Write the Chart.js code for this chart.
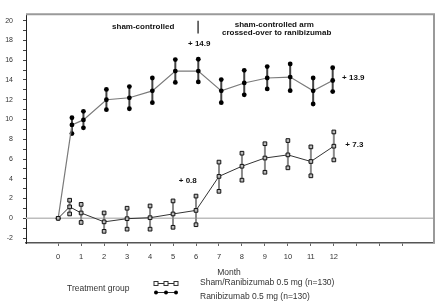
<!DOCTYPE html>
<html>
<head>
<meta charset="utf-8">
<script src="https://cdn.jsdelivr.net/npm/chart.js@4.4.0/dist/chart.umd.min.js"></script>
<style>
  html, body { margin: 0; padding: 0; background: #fff; }
</style>
</head>
<body>
<canvas id="chart-bcva" width="439" height="307"></canvas>
<script>
// ---- data ----
const xTickValues = [0, 1, 2, 3, 4, 5, 6, 7, 8, 9, 10, 11, 12, 13, 14, 15];
const yTickValues = [-2, -1, 0, 1, 2, 3, 4, 5, 6, 7, 8, 9, 10, 11, 12, 13, 14, 15, 16, 17, 18, 19, 20];

const shamMonths = [0, 0.5, 1, 2, 3, 4, 5, 6, 7, 8, 9, 10, 11, 12];
const shamMean  = [0, 1.16, 0.54, -0.36, -0.04, 0.06, 0.44, 0.8, 4.24, 5.27, 6.1, 6.42, 5.75, 7.3];
const shamUpper = [null, 1.83, 1.41, 0.54, 1.02, 1.25, 1.76, 2.25, 5.69, 6.59, 7.55, 7.87, 7.23, 8.74];
const shamLower = [null, 0.44, -0.42, -1.32, -1.1, -1.1, -0.91, -0.65, 2.73, 3.86, 4.66, 5.11, 4.3, 5.91];

const ranibMonths = [0, 0.6, 1.1, 2.1, 3.1, 4.1, 5.1, 6.1, 7.1, 8.1, 9.1, 10.1, 11.1, 11.95];
const ranibMean  = [0, 9.45, 9.96, 12.0, 12.2, 12.9, 14.9, 14.9, 12.9, 13.7, 14.2, 14.3, 12.9, 13.95];
const ranibUpper = [null, 10.18, 10.83, 13.05, 13.33, 14.2, 16.07, 16.1, 14.04, 14.98, 15.36, 15.62, 14.2, 15.24];
const ranibLower = [null, 8.58, 9.16, 11.0, 11.09, 11.7, 13.75, 13.8, 11.7, 12.5, 13.1, 12.92, 11.57, 12.83];

const seriesLabels = ['Sham/Ranibizumab 0.5 mg (n=130)', 'Ranibizumab 0.5 mg (n=130)'];

const FONT = '"Liberation Sans", Arial, sans-serif';
const pts = (xs, ys) => xs.map((x, i) => ({ x: x, y: ys[i] })).filter(p => p.y !== null);

// whiskers, zero line, frame, notes and legend
const overlay = {
  id: 'overlay',
  beforeDatasetsDraw(chart) {
    const { ctx, chartArea: a, scales: { x, y } } = chart;
    ctx.save();
    const y0 = y.getPixelForValue(0);
    ctx.strokeStyle = '#bdbdbd';
    ctx.lineWidth = 1.5;
    ctx.beginPath(); ctx.moveTo(a.left, y0); ctx.lineTo(a.right, y0); ctx.stroke();

    const whiskers = (months, lo, hi, color) => {
      ctx.strokeStyle = color;
      ctx.lineWidth = 2;
      months.forEach((m, i) => {
        if (lo[i] === null) return;
        const px = x.getPixelForValue(m);
        ctx.beginPath();
        ctx.moveTo(px, y.getPixelForValue(lo[i]));
        ctx.lineTo(px, y.getPixelForValue(hi[i]));
        ctx.stroke();
      });
    };
    whiskers(shamMonths, shamLower, shamUpper, '#8a8a8a');
    whiskers(ranibMonths, ranibLower, ranibUpper, '#444');
    ctx.restore();
  },
  afterDraw(chart) {
    const { ctx, chartArea: a, scales: { x, y } } = chart;
    ctx.save();
    // top / right frame
    ctx.strokeStyle = '#9a9a9a';
    ctx.lineWidth = 2;
    ctx.beginPath();
    ctx.moveTo(a.left, a.top); ctx.lineTo(a.right, a.top); ctx.lineTo(a.right, a.bottom);
    ctx.stroke();

    // divider between study phases
    ctx.strokeStyle = '#111';
    ctx.lineWidth = 1.2;
    const vx = x.getPixelForValue(6.09);
    ctx.beginPath(); ctx.moveTo(vx, y.getPixelForValue(20.0)); ctx.lineTo(vx, y.getPixelForValue(18.7)); ctx.stroke();

    ctx.fillStyle = '#111';
    ctx.textBaseline = 'middle';
    ctx.font = 'bold 8px ' + FONT;
    ctx.textAlign = 'center';
    ctx.fillText('sham-controlled', x.getPixelForValue(3.7), y.getPixelForValue(19.35));
    ctx.fillText('sham-controlled arm', x.getPixelForValue(9.41), y.getPixelForValue(19.57));
    ctx.fillText('crossed-over to ranibizumab', x.getPixelForValue(9.51), y.getPixelForValue(18.77));
    ctx.fillText('+ 14.9', x.getPixelForValue(6.14), y.getPixelForValue(17.65));
    ctx.textAlign = 'left';
    ctx.fillText('+ 13.9', x.getPixelForValue(12.36), y.getPixelForValue(14.2));
    ctx.fillText('+ 7.3', x.getPixelForValue(12.5), y.getPixelForValue(7.39));
    ctx.fillText('+ 0.8', x.getPixelForValue(5.25), y.getPixelForValue(3.76));

    // axis title and legend
    ctx.fillStyle = '#333';
    ctx.font = '8.5px ' + FONT;
    ctx.textAlign = 'center';
    ctx.fillText('Month', 229, 273);
    ctx.textAlign = 'left';
    ctx.fillText('Treatment group', 67, 288.5);
    ctx.fillText(seriesLabels[0], 200, 283);
    ctx.fillText(seriesLabels[1], 200, 296.5);

    ctx.strokeStyle = '#333';
    ctx.lineWidth = 1;
    ctx.beginPath(); ctx.moveTo(156, 283.5); ctx.lineTo(176, 283.5); ctx.stroke();
    ctx.beginPath(); ctx.moveTo(156, 292.5); ctx.lineTo(176, 292.5); ctx.stroke();
    [156, 166, 176].forEach(cx => {
      ctx.fillStyle = '#fff';
      ctx.fillRect(cx - 2, 281.5, 4, 4);
      ctx.strokeRect(cx - 2, 281.5, 4, 4);
      ctx.fillStyle = '#000';
      ctx.beginPath(); ctx.arc(cx, 292.5, 2, 0, Math.PI * 2); ctx.fill();
    });
    ctx.restore();
  }
};

const canvas = document.getElementById('chart-bcva');
let chart = new Chart(canvas, {
  type: 'scatter',
  data: {
    datasets: [
      {
        label: seriesLabels[0],
        data: pts(shamMonths, shamMean),
        showLine: true,
        borderColor: '#333',
        borderWidth: 1,
        pointStyle: 'rect',
        pointRadius: 2.6,
        pointBackgroundColor: '#bbb',
        pointBorderColor: '#111',
        pointBorderWidth: 1
      },
      {
        label: 'sham bounds',
        data: pts(shamMonths, shamUpper).concat(pts(shamMonths, shamLower)),
        pointStyle: 'rect',
        pointRadius: 2.6,
        pointBackgroundColor: '#bbb',
        pointBorderColor: '#111',
        pointBorderWidth: 1
      },
      {
        label: seriesLabels[1],
        data: pts(ranibMonths, ranibMean),
        showLine: true,
        borderColor: '#7a7a7a',
        borderWidth: 1.2,
        pointStyle: 'circle',
        pointRadius: 2.4,
        pointBackgroundColor: '#000',
        pointBorderColor: '#000',
        pointBorderWidth: 0
      },
      {
        label: 'ranib bounds',
        data: pts(ranibMonths, ranibUpper).concat(pts(ranibMonths, ranibLower)),
        pointStyle: 'circle',
        pointRadius: 2.4,
        pointBackgroundColor: '#000',
        pointBorderColor: '#000',
        pointBorderWidth: 0
      }
    ]
  },
  options: {
    responsive: false,
    animation: false,
    layout: { padding: { top: 3, right: 4, left: 0, bottom: 0 } },
    plugins: { legend: { display: false }, tooltip: { enabled: false } },
    scales: {
      x: {
        type: 'linear',
        min: -1.4,
        max: 16.36,
        afterBuildTicks: s => { s.ticks = xTickValues.map(v => ({ value: v })); },
        afterFit: s => { s.height = 64; },
        grid: { drawOnChartArea: false, tickLength: 3, color: '#666' },
        border: { color: '#555', width: 1.5 },
        ticks: {
          autoSkip: false,
          maxRotation: 0,
          padding: 6,
          color: '#333',
          font: { family: FONT, size: 7.5 },
          callback: v => (v <= 12 ? String(v) : '')
        }
      },
      y: {
        type: 'linear',
        min: -2.5,
        max: 20.66,
        afterBuildTicks: s => { s.ticks = yTickValues.map(v => ({ value: v })); },
        afterFit: s => { s.width = 26; },
        grid: { drawOnChartArea: false, tickLength: 3, color: '#444' },
        border: { color: '#222', width: 1 },
        ticks: {
          autoSkip: false,
          padding: 10,
          color: '#333',
          font: { family: FONT, size: 7 },
          callback: v => (v % 2 === 0 ? String(v) : '')
        }
      }
    }
  },
  plugins: [overlay]
});
</script>
</body>
</html>
